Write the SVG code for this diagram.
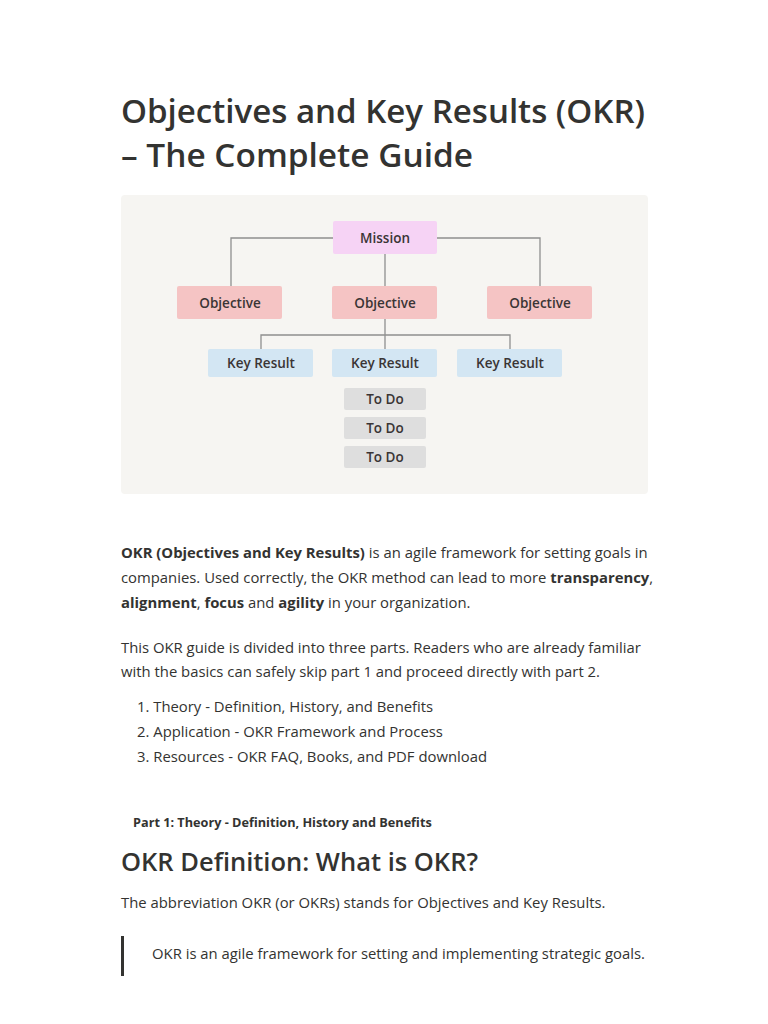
<svg xmlns="http://www.w3.org/2000/svg" width="768" height="1024" viewBox="0 0 768 1024">
<style>
.t{font-family:"Open Sans","Liberation Sans",sans-serif;fill:#333331}
.n{font-family:"Open Sans","Liberation Sans",sans-serif;font-size:13.5px;font-weight:600;fill:#3a3535;text-anchor:middle}
.b{font-size:14.85px}
.c{fill:none;stroke:#8f8f8f;stroke-width:1.3}
</style>
<rect width="768" height="1024" fill="#fff"/>
<text class="t" x="121" y="123" font-size="32" font-weight="600" textLength="524" lengthAdjust="spacingAndGlyphs">Objectives and Key Results (OKR)</text>
<text class="t" x="121" y="167" font-size="32" font-weight="600" textLength="352" lengthAdjust="spacingAndGlyphs">– The Complete Guide</text>
<rect x="121" y="195" width="527" height="299" rx="4" fill="#f6f5f2"/>
<g id="connectors" class="c">
<path d="M333 238H231V286M437 238H540V286M385 254V286M385 319V349M261 349V335H510V349"/>
</g>
<g id="mission"><rect x="333" y="221" width="104" height="33" rx="2" fill="#f6d3f5"/><text class="n" x="385" y="243">Mission</text></g>
<g id="obj1"><rect x="177" y="286" width="105" height="33" rx="2" fill="#f5c4c4"/><text class="n" x="230" y="308">Objective</text></g>
<g id="obj2"><rect x="332" y="286" width="105" height="33" rx="2" fill="#f5c4c4"/><text class="n" x="385" y="308">Objective</text></g>
<g id="obj3"><rect x="487" y="286" width="105" height="33" rx="2" fill="#f5c4c4"/><text class="n" x="540" y="308">Objective</text></g>
<g id="kr1"><rect x="208" y="349" width="105" height="28" rx="2" fill="#d3e6f3"/><text class="n" x="261" y="368">Key Result</text></g>
<g id="kr2"><rect x="332" y="349" width="105" height="28" rx="2" fill="#d3e6f3"/><text class="n" x="385" y="368">Key Result</text></g>
<g id="kr3"><rect x="457" y="349" width="105" height="28" rx="2" fill="#d3e6f3"/><text class="n" x="510" y="368">Key Result</text></g>
<g id="todo1"><rect x="344" y="388" width="82" height="22" rx="2" fill="#dedede"/><text class="n" x="385" y="404">To Do</text></g>
<g id="todo2"><rect x="344" y="417" width="82" height="22" rx="2" fill="#dedede"/><text class="n" x="385" y="433">To Do</text></g>
<g id="todo3"><rect x="344" y="446" width="82" height="22" rx="2" fill="#dedede"/><text class="n" x="385" y="462">To Do</text></g>
<g class="t b">
<text x="121" y="558"><tspan font-weight="700">OKR (Objectives and Key Results)</tspan> is an agile framework for setting goals in</text>
<text x="121" y="583">companies. Used correctly, the OKR method can lead to more <tspan font-weight="700">transparency</tspan>,</text>
<text x="121" y="608"><tspan font-weight="700">alignment</tspan>, <tspan font-weight="700">focus</tspan> and <tspan font-weight="700">agility</tspan> in your organization.</text>
<text x="121" y="653">This OKR guide is divided into three parts. Readers who are already familiar</text>
<text x="121" y="677">with the basics can safely skip part 1 and proceed directly with part 2.</text>
<text x="137" y="712">1. Theory - Definition, History, and Benefits</text>
<text x="137" y="737">2. Application - OKR Framework and Process</text>
<text x="137" y="762">3. Resources - OKR FAQ, Books, and PDF download</text>
<text x="121" y="908">The abbreviation OKR (or OKRs) stands for Objectives and Key Results.</text>
<text x="152" y="959">OKR is an agile framework for setting and implementing strategic goals.</text>
</g>
<text class="t" x="133" y="827" font-size="12.7" font-weight="700">Part 1: Theory - Definition, History and Benefits</text>
<text class="t" x="121" y="871" font-size="25.5" font-weight="600">OKR Definition: What is OKR?</text>
<rect x="121" y="936" width="3" height="40" fill="#333331"/>
</svg>
